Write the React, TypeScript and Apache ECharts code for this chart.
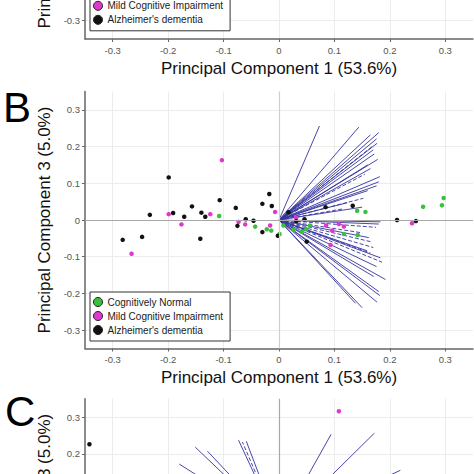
import React, { useEffect, useRef } from 'react';
import * as echarts from 'echarts';

const legendNames = ['Cognitively Normal', 'Mild Cognitive Impairment', "Alzheimer's dementia"];
const groupColors = ['#3cbf3c', '#de38cf', '#111111'];

const xTitle = 'Principal Component 1 (53.6%)';
const yTitleA = 'Principal Component 2 (13.9%)';
const yTitleB = 'Principal Component 3 (5.0%)';
const yTitleC = 'Principal Component 3 (5.0%)';

// Panel B scores (PC1, PC3)
const bNormal: number[][] = [
  [-0.108, 0.011], [-0.043, -0.018], [-0.022, -0.025], [-0.014, -0.029], [0.141, 0.025],
  [0.156, 0.022], [0.008, -0.015], [0.056, -0.015], [0.049, -0.025], [0.041, -0.032],
  [0.026, -0.027], [0.117, -0.038], [0.142, -0.041], [0.001, -0.038], [0.297, 0.06],
  [0.294, 0.04], [0.26, 0.036],
];
const bMCI: number[][] = [
  [-0.103, 0.163], [-0.124, 0.016], [-0.007, 0.022], [-0.199, 0.016], [-0.073, -0.005],
  [-0.061, -0.012], [-0.176, -0.012], [-0.016, -0.015], [-0.266, -0.092], [0.031, 0.006],
  [0.085, -0.015], [0.108, -0.011], [0.117, -0.018], [0.096, -0.029], [0.093, -0.068],
  [0.24, -0.009],
];
const bAD: number[][] = [
  [-0.199, 0.116], [-0.0175, 0.071], [-0.107, 0.054], [-0.03, 0.044], [-0.013, 0.038],
  [-0.157, 0.037], [-0.078, 0.033], [-0.14, 0.02], [-0.233, 0.014], [-0.191, 0.019],
  [-0.171, 0.009], [-0.133, 0.009], [-0.06, 0.002], [-0.046, -0.002], [-0.075, -0.016],
  [-0.03, -0.033], [-0.002, -0.043], [-0.282, -0.054], [-0.247, -0.046], [-0.142, -0.051],
  [0.084, 0.035], [0.133, 0.039], [0.017, 0.021], [0.046, 0.002], [0.031, -0.003],
  [0.05, -0.059], [0.213, 0.0], [0.247, -0.003],
];

// Panel B loading vector tips
const bLoadings: number[][] = [
  [0.073, 0.256], [0.144, 0.253], [0.18, 0.238], [0.165, 0.232], [0.176, 0.221],
  [0.168, 0.2], [0.177, 0.209], [0.17, 0.191], [0.172, 0.18], [0.178, 0.165],
  [0.16, 0.15], [0.165, 0.14], [0.155, 0.125], [0.182, 0.118], [0.18, 0.104],
  [0.176, 0.093], [0.16, 0.08], [0.152, 0.059], [0.123, 0.047], [0.15, 0.035],
  [0.114, 0.03], [0.183, -0.005], [0.18, -0.011], [0.175, -0.02], [0.15, -0.035],
  [0.162, -0.048], [0.168, -0.06], [0.17, -0.075], [0.159, -0.084], [0.165, -0.09],
  [0.183, -0.103], [0.186, -0.115], [0.176, -0.127], [0.171, -0.154], [0.192, -0.162],
  [0.18, -0.195], [0.182, -0.206], [0.177, -0.224], [0.138, -0.227], [0.15, -0.239],
];
const bDashed = [5, 12, 17, 20, 23, 24, 26, 27, 29, 31];

// Panel C (visible part)
const cMCI: number[][] = [[0.108, 0.316]];
const cAD: number[][] = [[-0.342, 0.226]];
const cLoadings: number[][] = [
  [-0.18, 0.172], [-0.151, 0.218], [-0.129, 0.207], [-0.073, 0.237], [-0.066, 0.232],
  [-0.059, 0.234], [0.094, 0.253], [0.172, 0.256], [0.219, 0.155],
];
const cDashed = [4];

const FONT = "'Liberation Sans', Arial, Helvetica, sans-serif";
const AXIS_COLOR = '#666';
const LABEL_COLOR = '#555';

function xAxisFor(gridIndex: number, showLabels: boolean) {
  return {
    type: 'value', gridIndex, min: -0.35, max: 0.35, splitNumber: 7,
    name: showLabels ? xTitle : '', nameLocation: 'middle', nameGap: 14,
    nameTextStyle: { fontSize: 17, color: '#111', fontFamily: FONT },
    axisLine: { show: true, onZero: false, lineStyle: { color: AXIS_COLOR, width: 1.5 } },
    axisTick: { show: showLabels, length: 3, lineStyle: { color: AXIS_COLOR } },
    axisLabel: { show: showLabels, color: LABEL_COLOR, fontSize: 9.5, margin: 6, showMinLabel: false, showMaxLabel: false, fontFamily: FONT },
    splitLine: { show: true, showMinLine: false, showMaxLine: false, lineStyle: { color: '#ececec', width: 1 } },
  };
}
function yAxisFor(gridIndex: number, title: string) {
  return {
    type: 'value', gridIndex, min: -0.35, max: 0.35, splitNumber: 7,
    name: title, nameLocation: 'middle', nameGap: 20.5,
    nameTextStyle: { fontSize: 17, color: '#111', fontFamily: FONT },
    axisLine: { show: true, onZero: false, lineStyle: { color: AXIS_COLOR, width: 1.5 } },
    axisTick: { show: true, length: 3, lineStyle: { color: AXIS_COLOR } },
    axisLabel: { color: LABEL_COLOR, fontSize: 9.5, margin: 5, showMinLabel: false, showMaxLabel: false, fontFamily: FONT },
    splitLine: { show: true, showMinLine: false, showMaxLine: false, lineStyle: { color: '#ececec', width: 1 } },
  };
}

function zeroLines(idx: number, vColor: string, hColor: string) {
  return {
    type: 'scatter', xAxisIndex: idx, yAxisIndex: idx, data: [], z: 1,
    markLine: {
      silent: true, symbol: ['none', 'none'], animation: false,
      label: { show: false },
      lineStyle: { width: 1.2, type: 'solid' },
      data: [
        { xAxis: 0, lineStyle: { color: vColor } },
        { yAxis: 0, lineStyle: { color: hColor } },
      ],
    },
  };
}
function vectors(idx: number, tips: number[][], dashed: number[]) {
  return {
    type: 'lines', coordinateSystem: 'cartesian2d', xAxisIndex: idx, yAxisIndex: idx, z: 2,
    lineStyle: { color: '#34349e', width: 1, opacity: 0.9 },
    data: tips.map((t, i) => ({ coords: [[0, 0], t], lineStyle: { type: dashed.includes(i) ? 'dashed' : 'solid' } })),
  };
}
function points(idx: number, name: string, color: string, data: number[][]) {
  return {
    type: 'scatter', name, xAxisIndex: idx, yAxisIndex: idx, z: 3,
    symbolSize: 4.5, itemStyle: { color, opacity: 1 }, data,
  };
}
function legendAt(top: number) {
  return {
    orient: 'vertical', left: 90, top, data: legendNames, selectedMode: false,
    icon: 'circle', itemWidth: 9, itemHeight: 9, itemGap: 4,
    padding: [5, 7, 6, 3], borderColor: '#333', borderWidth: 1, backgroundColor: '#fff',
    itemStyle: { borderColor: '#222', borderWidth: 1 },
    textStyle: { fontSize: 10, color: '#1a1a1a', lineHeight: 10, fontFamily: FONT },
  };
}
function gridAt(top: number) {
  return { left: 85, width: 388, top, height: 257, outerBoundsMode: 'none', containLabel: false };
}

export default function App() {
  const ref = useRef<HTMLDivElement>(null);
  useEffect(() => {
    if (!ref.current) return;
    const chart = echarts.init(ref.current, undefined, { renderer: 'svg' });
    const option: any = {
      animation: false,
      backgroundColor: '#fff',
      textStyle: { fontFamily: FONT },
      grid: [gridAt(-218), gridAt(91.5), gridAt(398.7)],
      xAxis: [xAxisFor(0, true), xAxisFor(1, true), xAxisFor(2, false)],
      yAxis: [yAxisFor(0, yTitleA), yAxisFor(1, yTitleB), yAxisFor(2, yTitleC)],
      legend: [legendAt(-18.2), legendAt(292)],
      graphic: [
        { type: 'text', x: 3, y: 107.5, style: { text: 'B', font: `42px ${FONT}`, fill: '#000', verticalAlign: 'middle' } },
        { type: 'text', x: 5, y: 411.5, style: { text: 'C', font: `42px ${FONT}`, fill: '#000', verticalAlign: 'middle' } },
      ],
      series: [
        zeroLines(1, '#cfcfcf', '#a8a8a8'),
        zeroLines(2, '#a8a8a8', '#a8a8a8'),
        vectors(1, bLoadings, bDashed),
        vectors(2, cLoadings, cDashed),
        points(1, legendNames[0], groupColors[0], bNormal),
        points(1, legendNames[1], groupColors[1], bMCI),
        points(1, legendNames[2], groupColors[2], bAD),
        points(2, legendNames[1], groupColors[1], cMCI),
        points(2, legendNames[2], groupColors[2], cAD),
      ],
    };
    chart.setOption(option);
    return () => chart.dispose();
  }, []);
  return <div ref={ref} style={{ position: 'fixed', left: 0, top: 0, width: 474, height: 474 }} />;
}
